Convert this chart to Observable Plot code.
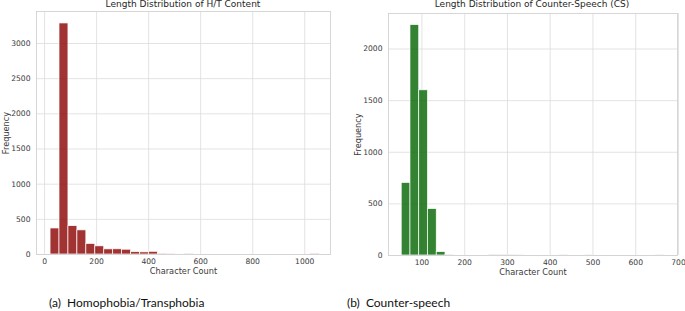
<!DOCTYPE html>
<html>
<head>
<meta charset="utf-8">
<script src="https://cdn.jsdelivr.net/npm/d3@7"></script>
<script src="https://cdn.jsdelivr.net/npm/@observablehq/plot@0.6"></script>
<style>
  html, body { margin: 0; padding: 0; background: #fff; }
  #wrap { position: relative; width: 685px; height: 311px; overflow: hidden; font-family: "DejaVu Sans", sans-serif; }
  .panel { position: absolute; top: 0; }
  .title { position: absolute; top: -1px; font-size: 9px; color: #262626; white-space: nowrap; transform: translateX(-50%); }
  .cap { position: absolute; top: 295px; font-family: Lato, "Liberation Sans", sans-serif; font-size: 12px; color: #111; white-space: pre; }
</style>
</head>
<body>
<div id="wrap">
  <div class="panel" id="left" style="left:0px"></div>
  <div class="panel" id="right" style="left:340px"></div>
  <div class="title" style="left:183px">Length Distribution of H/T Content</div>
  <div class="title" style="left:532px">Length Distribution of Counter-Speech (CS)</div>
  <div class="cap" style="left:49px">(a)  Homophobia/Transphobia</div>
  <div class="cap" style="left:347px">(b)  Counter-speech</div>
</div>
<script>
// H/T content: 30 bins between min and max length
const htMin = 23, htMax = 1055;
const htCounts = [370, 3285, 403, 343, 150, 116, 73, 74, 68, 33, 30, 38, 12, 2, 8, 3, 0, 0, 0, 0, 0, 0, 0, 0, 0, 0, 0, 0, 0, 12];
const htXTicks = [0, 200, 400, 600, 800, 1000];
const htYTicks = [0, 500, 1000, 1500, 2000, 2500, 3000];

// Counter-speech: 30 bins
const csMin = 52.7, csMax = 667;
const csCounts = [703, 2232, 1600, 450, 33, 2, 0, 0, 0, 0, 3, 2, 2, 1, 0, 0, 0, 0, 1, 0, 0, 1, 0, 0, 0, 0, 0, 0, 0, 1];
const csXTicks = [100, 200, 300, 400, 500, 600, 700];
const csYTicks = [0, 500, 1000, 1500, 2000];

function bins(min, max, counts) {
  const w = (max - min) / counts.length;
  return counts.map((c, i) => ({x1: min + i * w, x2: min + (i + 1) * w, y: c}));
}

function hist({counts, min, max, color, xDomain, yDomain, xTicks, yTicks, margins}) {
  return Plot.plot({
    width: margins.width, height: 280,
    marginLeft: margins.left, marginRight: margins.right,
    marginTop: margins.top, marginBottom: margins.bottom,
    style: {fontFamily: "DejaVu Sans, sans-serif", fontSize: "7.6px", color: "#3a3a3a", background: "white"},
    x: {domain: xDomain},
    y: {domain: yDomain},
    marks: [
      Plot.gridX(xTicks, {stroke: "#dcdcdc", strokeOpacity: 1, strokeWidth: 0.8}),
      Plot.gridY(yTicks, {stroke: "#dcdcdc", strokeOpacity: 1, strokeWidth: 0.8}),
      Plot.rectY(bins(min, max, counts), {x1: "x1", x2: "x2", y: "y", fill: color, fillOpacity: 0.8, stroke: "white", strokeWidth: 0.7, inset: 0}),
      Plot.frame({stroke: "#d2d2d2", strokeWidth: 0.9}),
      Plot.axisX(xTicks, {tickSize: 0, tickPadding: 4, tickFormat: d3.format("d"), fontSize: 7.6, label: null}),
      Plot.axisX({ticks: [], label: "Character Count", labelAnchor: "center", labelArrow: "none", labelOffset: 19, fontSize: 8.2}),
      Plot.axisY(yTicks, {tickSize: 0, tickPadding: 6, tickFormat: d3.format("d"), fontSize: 7.6, label: null}),
      Plot.axisY({ticks: [], label: "Frequency", labelAnchor: "center", labelArrow: "none", labelOffset: margins.labelOffset, fontSize: 8.2})
    ]
  });
}

document.getElementById("left").append(hist({
  counts: htCounts, min: htMin, max: htMax, color: "#8b0000",
  xDomain: [-31, 1099], yDomain: [0, 3455], xTicks: htXTicks, yTicks: htYTicks,
  margins: {width: 340, left: 36, right: 10, top: 11, bottom: 26, labelOffset: 33}
}));

document.getElementById("right").append(hist({
  counts: csCounts, min: csMin, max: csMax, color: "#006400",
  xDomain: [21.8, 697.7], yDomain: [0, 2344], xTicks: csXTicks, yTicks: csYTicks,
  margins: {width: 345, left: 48, right: 8, top: 13, bottom: 25, labelOffset: 33}
}));
</script>
</body>
</html>
